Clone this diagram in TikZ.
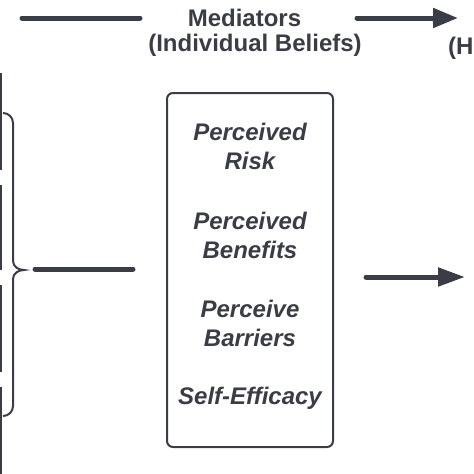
\documentclass[tikz,border=0pt]{standalone}
\usepackage{fontspec}
\setmainfont{Liberation Sans}
\usetikzlibrary{arrows.meta}
\definecolor{ink}{HTML}{3A3D45}

\begin{document}
\begin{tikzpicture}[x=1pt,y=-1pt,
  head/.style={font=\bfseries\fontsize{24}{27}\selectfont,text=ink,inner sep=0pt},
  belief/.style={font=\bfseries\itshape\fontsize{24}{29}\selectfont,text=ink,align=center,inner sep=0pt},
  bar/.style={ink,line width=5pt,line cap=round}]
\useasboundingbox (0,0) rectangle (474,474);
% header
\draw[bar] (22,18) -- (140,18);
\node[head] (med) at (244.5,18) {Mediators};
\node[head] (ind) at (255,45) {(Individual Beliefs)};
\draw[bar,-{Triangle[length=25pt,width=19pt]}] (357,18) -- (458,18);
\node[head,anchor=west] (out) at (448,48) {(H};
% cut off boxes on the left
\draw[ink,line width=3.5pt] (0.5,73) -- (0.5,170);
\draw[ink,line width=3.5pt] (0.5,185) -- (0.5,270);
\draw[ink,line width=3.5pt] (0.5,285) -- (0.5,372);
\draw[ink,line width=3.5pt] (0.5,387) -- (0.5,474);
% brace
\draw[ink,line width=2pt] (3,113) to[out=0,in=90] (13,123) -- (13,261)
  to[out=270,in=180] (24,270) to[out=180,in=90] (13,279) -- (13,406)
  to[out=270,in=0] (3,416);
\draw[bar] (35,269) -- (133,269);
% mediators box
\draw[ink,line width=2pt,rounded corners=6pt] (167,93) rectangle (333,447);
\node[belief] (risk) at (250,146) {Perceived\\Risk};
\node[belief] (benefits) at (250,235) {Perceived\\Benefits};
\node[belief] (barriers) at (250,323.5) {Perceive\\Barriers};
\node[belief] (efficacy) at (250,398) {Self-Efficacy};
\draw[bar,-{Triangle[length=27pt,width=18pt]}] (366,277) -- (465,277);
\end{tikzpicture}
\end{document}
